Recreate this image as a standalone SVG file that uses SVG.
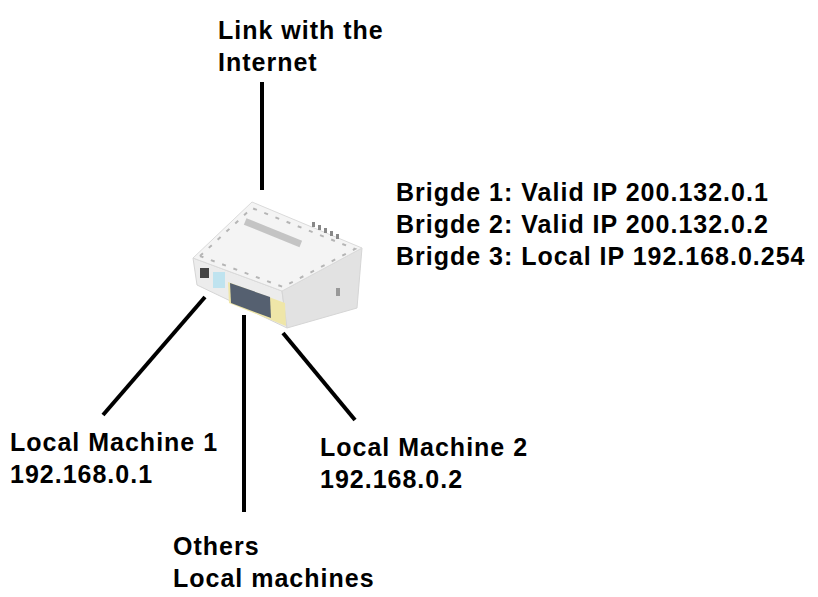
<svg xmlns="http://www.w3.org/2000/svg" width="818" height="597" viewBox="0 0 818 597">
<style>
text{font-family:"Liberation Sans",Arial,sans-serif;font-weight:bold;font-size:25px;letter-spacing:1px;fill:#000}
.c{stroke:#000;stroke-width:4;fill:none}
.d{stroke:#b5b5b5;stroke-width:2;stroke-dasharray:4 8;fill:none}
</style>
<rect width="818" height="597" fill="#fff"/>
<g id="router">
<polygon points="193,258 197,285 287,328 282,291" fill="#ececec" stroke="#d5d5d5"/>
<polygon points="282,291 287,328 357,308 362,248" fill="#e2e2e2" stroke="#d5d5d5"/>
<polygon points="193,258 252,202 362,248 282,291" fill="#f4f4f4" stroke="#dadada"/>
<polyline class="d" points="200,256 252,208 355,249 283,287 200,256"/>
<polygon points="228,282 285,303 286,326 229,303" fill="#efe6a8"/>
<polygon points="230,283 270,297 271,318 231,303" fill="#556070"/>
<rect x="200" y="268" width="9" height="10" fill="#444"/>
<rect x="213" y="272" width="12" height="16" fill="#bfe3ef"/>
<rect x="243" y="228" width="60" height="7" fill="#c4c4c4" transform="rotate(22 270 232)"/>
<g fill="#888"><rect x="312" y="222" width="3" height="5"/><rect x="318" y="225" width="3" height="5"/><rect x="324" y="228" width="3" height="5"/><rect x="330" y="231" width="3" height="5"/><rect x="336" y="234" width="3" height="5"/></g>
<rect x="336" y="288" width="4" height="8" fill="#999"/>
</g>
<g id="connectors">
<line class="c" x1="262" y1="82" x2="262" y2="190"/>
<line class="c" x1="205" y1="297" x2="103" y2="415"/>
<line class="c" x1="244" y1="315" x2="244" y2="512"/>
<line class="c" x1="283" y1="333" x2="355" y2="420"/>
</g>
<g id="internet"><text x="218" y="39">Link with the</text><text x="218" y="71">Internet</text></g>
<g id="bridges"><text x="396" y="201">Brigde 1: Valid IP 200.132.0.1</text><text x="396" y="233">Brigde 2: Valid IP 200.132.0.2</text><text x="396" y="265">Brigde 3: Local IP 192.168.0.254</text></g>
<g id="lm1"><text x="10" y="451">Local Machine 1</text><text x="10" y="483">192.168.0.1</text></g>
<g id="lm2"><text x="320" y="456">Local Machine 2</text><text x="320" y="488">192.168.0.2</text></g>
<g id="others"><text x="173" y="555">Others</text><text x="173" y="587">Local machines</text></g>
</svg>
